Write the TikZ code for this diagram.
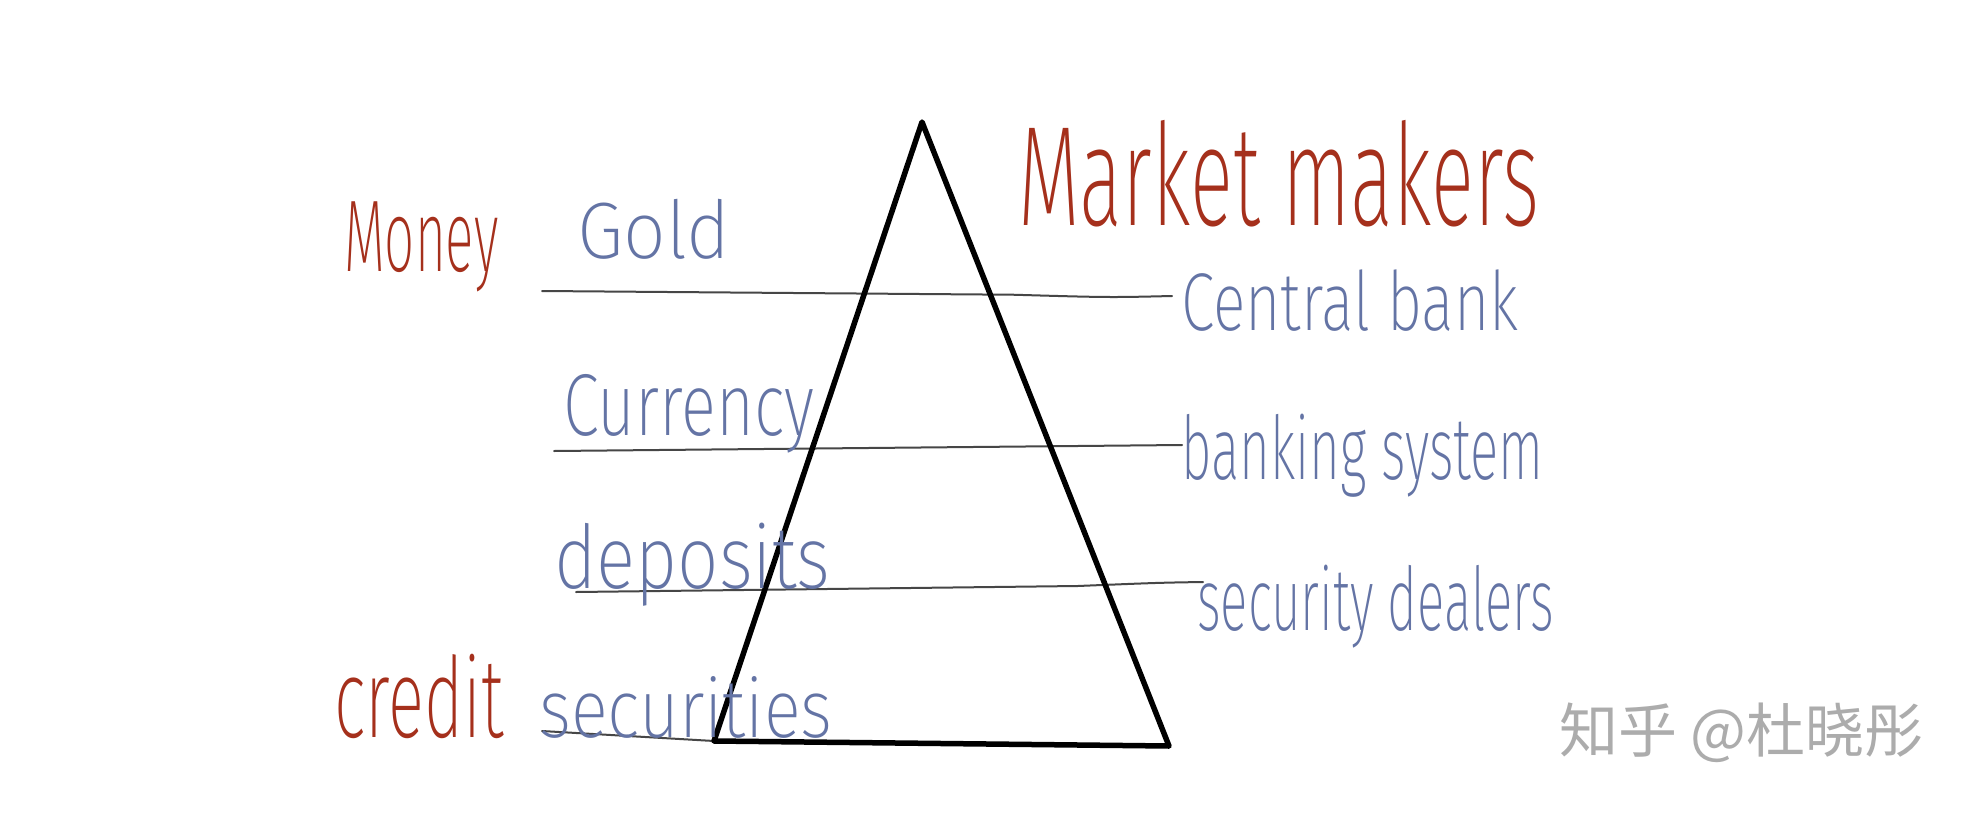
\documentclass[tikz,border=0pt]{standalone}
\usepackage{fontspec}
\usepackage{graphicx}
\usetikzlibrary{calc}
\newfontfamily\hand{Fira Sans ExtraLight}
\newfontfamily\cjk{Noto Sans CJK SC}
\definecolor{inkred}{RGB}{165,48,28}
\definecolor{inkblue}{RGB}{100,116,165}
\definecolor{rulegray}{RGB}{70,70,70}
\definecolor{wmgray}{RGB}{172,172,172}
\newcommand{\hw}[3]{{\hand\fontsize{#1}{#1}\selectfont\scalebox{#2}[1]{#3}}}
\tikzset{
  redlabel/.style={text=inkred, inner sep=0pt, anchor=base west},
  bluelabel/.style={text=inkblue, inner sep=0pt, anchor=base west},
  rule/.style={draw=rulegray, line width=2pt, line cap=round},
  pyramid/.style={draw=black, line width=5.5pt, line join=round, line cap=round},
}
\begin{document}
\begin{tikzpicture}[x=1pt, y=-1pt]
\useasboundingbox (0,0) rectangle (1976,814);
\fill[white] (0,0) rectangle (1976,814);
% triangle corners
\coordinate (apex) at (922,122);
\coordinate (bl) at (714,741);
\coordinate (br) at (1169,746);
% rule end points
\coordinate (r1a) at (542,291); \coordinate (r1b) at (1172,296);
\coordinate (r2a) at (554,451); \coordinate (r2b) at (1182,445);
\coordinate (r3a) at (576,592); \coordinate (r3b) at (1203,582);
\coordinate (r4a) at (542,731);
% rules
\draw[rule] (r1a) -- ($(r1a)!0.75!(r1b)$) .. controls ($(r1a)!0.9!(r1b)+(0,2)$) .. (r1b);
\draw[rule] (r2a) -- (r2b);
\draw[rule] (r3a) -- ($(r3a)!0.8!(r3b)+(0,2)$) .. controls ($(r3a)!0.93!(r3b)$) .. (r3b);
\draw[rule] (r4a) -- (bl);
% pyramid
\draw[pyramid] (apex) -- (br) -- (bl) -- cycle;
% labels
\node[redlabel] (money) at (344,271) {\hw{102}{0.52}{Money}};
\node[redlabel] (credit) at (334,737) {\hw{112}{0.6}{credit}};
\node[redlabel] (makers) at (1018,225) {\hw{142}{0.565}{Market makers}};
\node[bluelabel] (gold) at (577,258) {\hw{80}{0.94}{Gold}};
\node[bluelabel] (currency) at (563,435) {\hw{88}{0.74}{Currency}};
\node[bluelabel] (deposits) at (554,588) {\hw{88}{0.83}{deposits}};
\node[bluelabel] (securities) at (539,737) {\hw{82}{0.84}{securities}};
\node[bluelabel] (central) at (1181,330) {\hw{82}{0.74}{Central bank}};
\node[bluelabel] (banking) at (1181,479) {\hw{88}{0.6}{banking system}};
\node[bluelabel] (dealers) at (1197,630) {\hw{88}{0.58}{security dealers}};
\node[text=wmgray, inner sep=0pt, anchor=west] (wm) at (1559,733) {\cjk\fontsize{59}{59}\selectfont 知乎 @杜晓彤};
\end{tikzpicture}
\end{document}
